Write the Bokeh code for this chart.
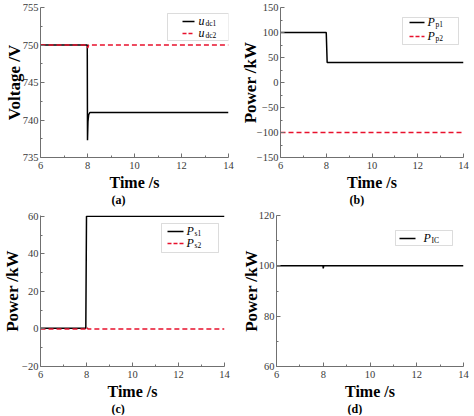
from bokeh.plotting import figure
from bokeh.layouts import column, row
from bokeh.models import FixedTicker, Range1d, Label, BoxAnnotation, Arrow, Title
from bokeh.embed import file_html
from bokeh.resources import INLINE

# ---------------- data ----------------
x_ticks = [6, 8, 10, 12, 14]
x_minor = [7, 9, 11, 13]

# (a) DC voltages
t_udc1 = [6.0, 7.99, 8.0, 8.02, 8.05, 8.1, 14.0]
u_dc1 = [750.0, 750.0, 737.3, 739.8, 740.7, 741.0, 741.0]
t_udc2 = [6.0, 7.98, 8.01, 8.05, 14.0]
u_dc2 = [750.0, 750.0, 749.6, 750.0, 750.0]
a_ticks = [735, 740, 745, 750, 755]
a_minor = [737.5, 742.5, 747.5, 752.5]

# (b) P_p
t_pp1 = [6.0, 8.0, 8.04, 14.0]
p_p1 = [100, 100, 40, 40]
t_pp2 = [6.0, 14.0]
p_p2 = [-100, -100]
b_ticks = [-150, -100, -50, 0, 50, 100, 150]
b_minor = [-125, -75, -25, 25, 75, 125]

# (c) P_s
t_ps1 = [6.0, 7.97, 8.0, 14.0]
p_s1 = [0.3, 0.3, 60, 60]
t_ps2 = [6.0, 7.99, 8.02, 8.06, 14.0]
p_s2 = [0, 0, 0.9, 0, 0]
c_ticks = [-20, 0, 20, 40, 60]
c_minor = [-10, 10, 30, 50]

# (d) P_IC
t_pic = [6.0, 7.99, 8.0, 8.02, 14.0]
p_ic = [100, 100, 99.0, 100, 100]
d_ticks = [60, 80, 100, 120]
d_minor = [70, 90, 110]

captions = ["(a)", "(b)", "(c)", "(d)"]

FONT = "Liberation Serif"
RED = "#e8112d"
AX = "#707070"


class Panel:
    def __init__(self, W, H, yr, yt, ym, ylabel, bl, br, bt, bb, ystand, caption, cap_off):
        self.W, self.H, self.bl, self.bb = W, H, bl, bb
        p = figure(width=W, height=H, x_range=Range1d(6, 14), y_range=Range1d(*yr),
                   output_backend="svg", toolbar_location=None,
                   min_border_left=bl, min_border_right=br,
                   min_border_top=bt, min_border_bottom=bb)
        p.outline_line_color = None
        p.grid.visible = False
        p.xaxis.ticker = FixedTicker(ticks=x_ticks, minor_ticks=x_minor)
        p.yaxis.ticker = FixedTicker(ticks=yt, minor_ticks=ym)
        p.xaxis.axis_label = "Time /s"
        p.yaxis.axis_label = ylabel
        for ax in (p.xaxis[0], p.yaxis[0]):
            ax.axis_line_color = AX
            ax.major_tick_line_color = AX
            ax.minor_tick_line_color = AX
            ax.major_tick_in = 4
            ax.major_tick_out = 0
            ax.minor_tick_in = 2
            ax.minor_tick_out = 0
            ax.major_label_text_font = FONT
            ax.major_label_text_font_size = "10.5px"
            ax.major_label_text_color = "#3a3a3a"
            ax.axis_label_text_font = FONT
            ax.axis_label_text_font_style = "bold"
            ax.axis_label_text_color = "#000000"
            ax.major_label_standoff = 2
        p.yaxis[0].axis_label_text_font_size = "17px"
        p.yaxis[0].axis_label_standoff = ystand
        p.xaxis[0].axis_label_text_font_size = "16px"
        p.xaxis[0].axis_label_standoff = 2
        p.xaxis[0].major_label_standoff = 4
        p.add_layout(Title(text=caption, align="left", offset=cap_off, standoff=-6,
                           text_font=FONT, text_font_size="12px", text_font_style="bold",
                           text_color="#000000"), "below")
        self.p = p

    # canvas (top-left origin) -> frame-relative screen units
    def sx(self, cx):
        return cx - self.bl

    def sy(self, cy):
        return (self.H - self.bb) - cy

    def text(self, cx, cy, s, size, style="normal", align="left"):
        self.p.add_layout(Label(x=self.sx(cx), y=self.sy(cy), x_units="screen", y_units="screen",
                                text=s, text_font=FONT, text_font_size=size,
                                text_font_style=style, text_align=align,
                                text_baseline="middle", text_color="#000000"))

    def legend(self, box, entries):
        l, r, t, b = box
        self.p.add_layout(BoxAnnotation(left=self.sx(l), right=self.sx(r),
                                        top=self.sy(t), bottom=self.sy(b),
                                        left_units="screen", right_units="screen",
                                        top_units="screen", bottom_units="screen",
                                        fill_color="white", fill_alpha=1.0,
                                        line_color="#8c8c8c", line_width=1))
        for (x0, x1, y, color, dash, main, sub, xt, xs) in entries:
            self.p.add_layout(Arrow(x_start=self.sx(x0), y_start=self.sy(y),
                                    x_end=self.sx(x1), y_end=self.sy(y),
                                    start_units="screen", end_units="screen", end=None,
                                    line_color=color, line_width=1.5, line_dash=dash))
            self.text(xt, y - 1, main, "12px", "italic")
            self.text(xs, y + 2, sub, "7.5px")


# (a)
A = Panel(237, 208, (735, 755), a_ticks, a_minor, "Voltage /V", 40, 9, 6, 50, -4, captions[0], 71)
A.p.line(t_udc1, u_dc1, line_color="black", line_width=1.5)
A.p.line(t_udc2, u_dc2, line_color=RED, line_width=1.5, line_dash="5 3")
A.legend((167, 228, 14, 41), [(182, 194, 22, "black", "solid", "u", "dc1", 198, 205),
                              (182, 194, 34, RED, "4 2", "u", "dc2", 198, 205)])

# (b)
B = Panel(236, 208, (-150, 150), b_ticks, b_minor, "Power /kW", 42, 10, 7, 51, -6, captions[1], 69)
B.p.line(t_pp1, p_p1, line_color="black", line_width=1.5)
B.p.line(t_pp2, p_p2, line_color=RED, line_width=1.5, line_dash="5 3")
B.legend((164, 220, 17, 44), [(171, 186, 22, "black", "solid", "P", "p1", 189, 197),
                              (171, 186, 36, RED, "4 2", "P", "p2", 189, 197)])

# (c)
C = Panel(237, 207, (-20, 60.4), c_ticks, c_minor, "Power /kW", 40, 13, 7, 49, -3, captions[2], 71)
C.p.line(t_ps1, p_s1, line_color="black", line_width=1.5)
C.p.line(t_ps2, p_s2, line_color=RED, line_width=1.5, line_dash="5 3")
C.legend((161, 218, 15, 44), [(167, 183, 23, "black", "solid", "P", "s1", 186, 194),
                              (167, 183, 35, RED, "4 2", "P", "s2", 186, 194)])

# (d)
D = Panel(236, 207, (60, 120), d_ticks, d_minor, "Power /kW", 39, 10, 7, 49, -5, captions[3], 71)
D.p.line(t_pic, p_ic, line_color="black", line_width=1.5)
D.legend((158, 215, 22, 37), [(162, 178, 30, "black", "solid", "P", "IC", 186, 194)])

layout = column(row(A.p, B.p), row(C.p, D.p))
open("out.html", "w").write(file_html(layout, INLINE))
